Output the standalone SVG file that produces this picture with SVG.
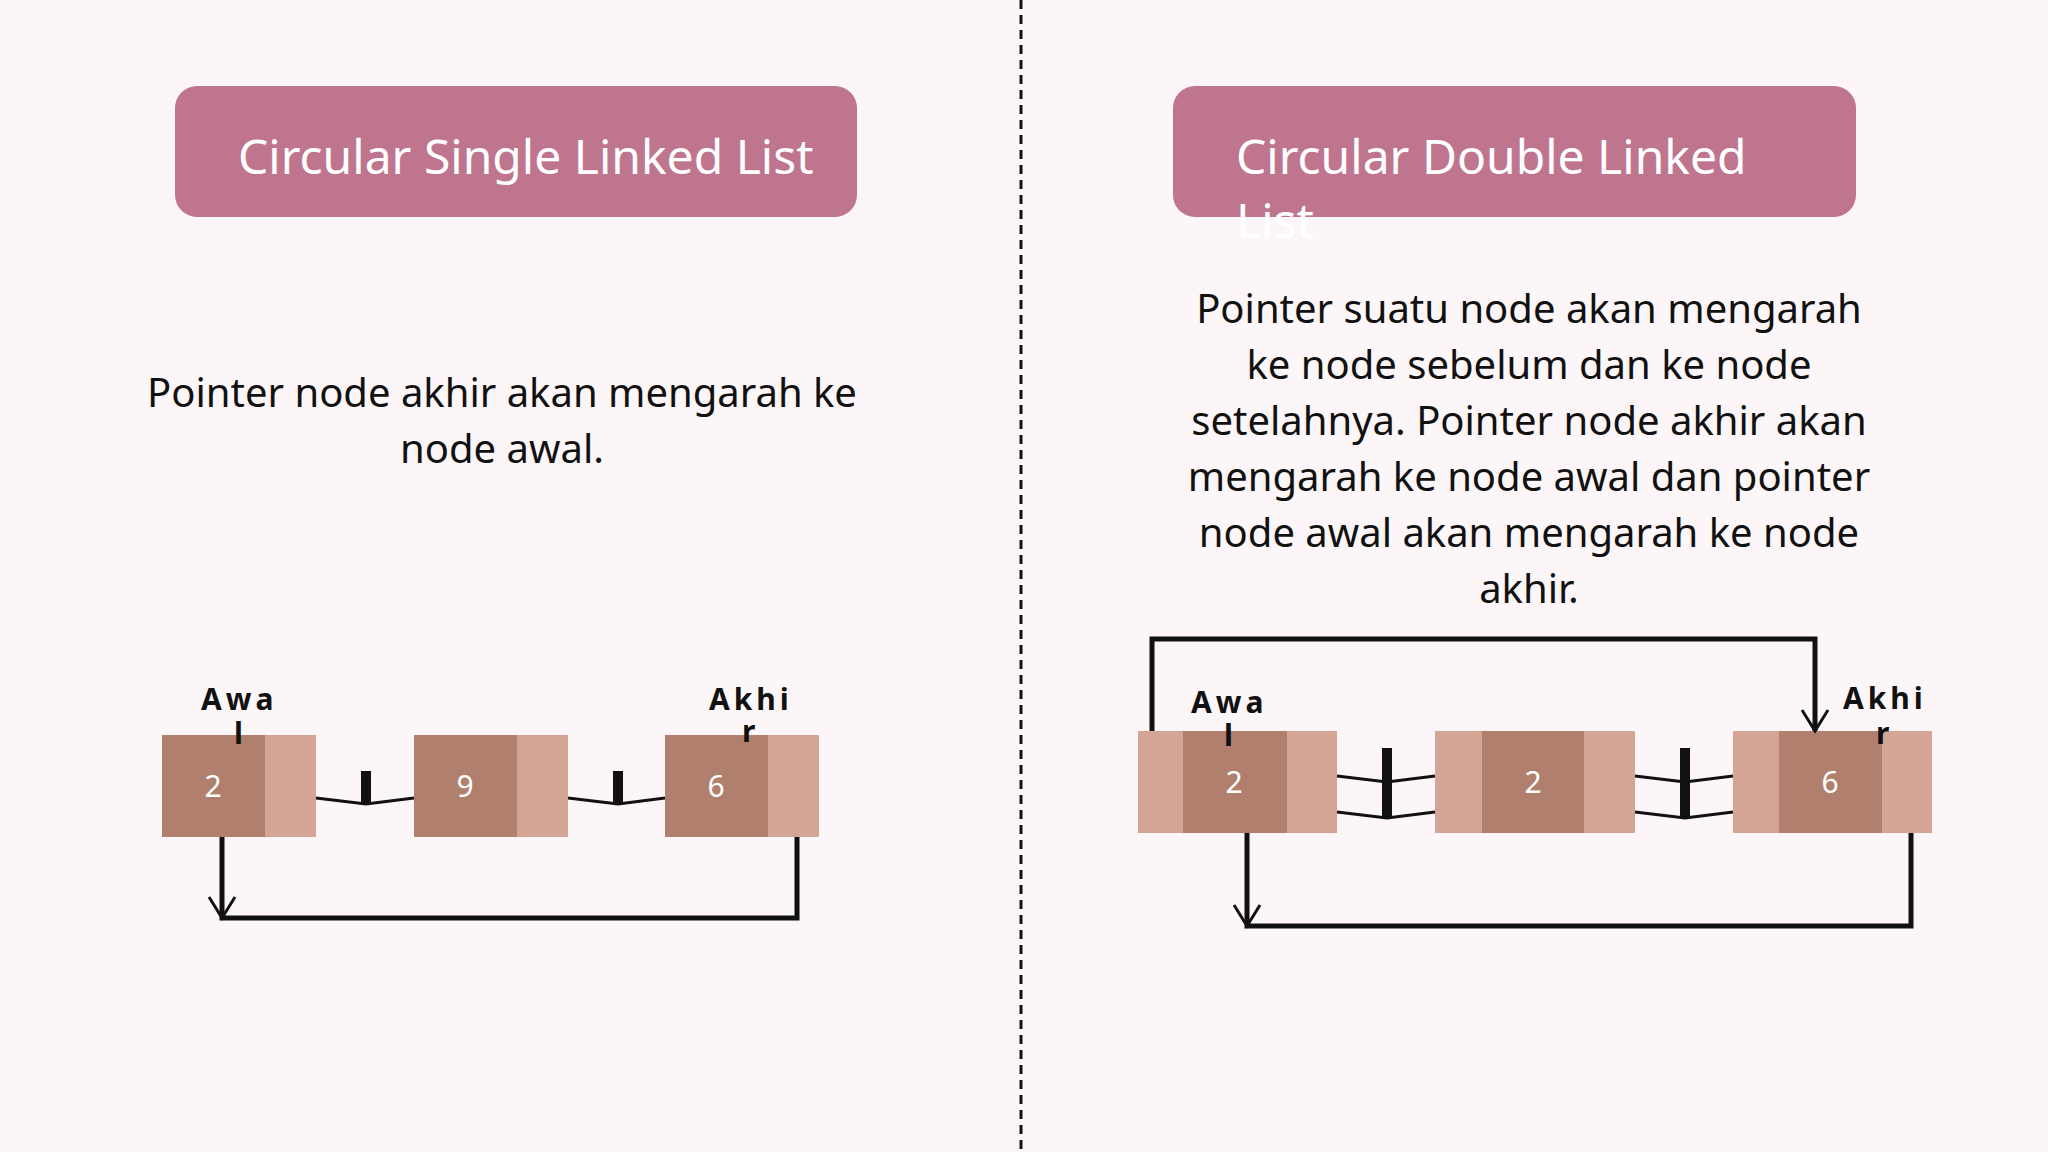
<svg xmlns="http://www.w3.org/2000/svg" width="2048" height="1152" viewBox="0 0 2048 1152">
<style>
.t{font-family:"Noto Sans","Open Sans",sans-serif;fill:#fff;font-size:48px}
.p{font-family:"Noto Sans","Open Sans",sans-serif;fill:#111;font-size:40px;text-anchor:middle}
.lb{font-family:"Noto Sans","DejaVu Sans",sans-serif;font-weight:bold;font-size:30px;fill:#111;letter-spacing:4px}
.n{font-family:"Noto Sans","Open Sans",sans-serif;fill:#fff;font-size:30px;text-anchor:middle}
.d{fill:#b07f6d}.l{fill:#d4a595}
.c{fill:none;stroke:#111;stroke-width:5}
.w{fill:none;stroke:#111;stroke-width:3}
.b{fill:#111}
</style>
<rect width="2048" height="1152" fill="#fdf6f8"/>
<line x1="1021" y1="0" x2="1021" y2="1152" stroke="#111" stroke-width="3" stroke-dasharray="9,6"/>
<g id="title-left"><rect x="175" y="86" width="682" height="131" rx="22" fill="#c0758f"/><text class="t" x="238" y="174">Circular Single Linked List</text></g>
<g id="title-right"><rect x="1173" y="86" width="683" height="131" rx="22" fill="#c0758f"/><text class="t" x="1236" y="174">Circular Double Linked</text><text class="t" x="1236" y="238">List</text></g>
<g id="desc-left"><text class="p" x="502" y="407">Pointer node akhir akan mengarah ke</text><text class="p" x="502" y="463">node awal.</text></g>
<g id="desc-right"><text class="p" x="1529" y="323">Pointer suatu node akan mengarah</text><text class="p" x="1529" y="379">ke node sebelum dan ke node</text><text class="p" x="1529" y="435">setelahnya. Pointer node akhir akan</text><text class="p" x="1529" y="491">mengarah ke node awal dan pointer</text><text class="p" x="1529" y="547">node awal akan mengarah ke node</text><text class="p" x="1529" y="603">akhir.</text></g>

<g id="left-n1"><rect class="l" x="162" y="735" width="154" height="102"/><rect class="d" x="162" y="735" width="103" height="102"/><text class="n" x="213" y="797">2</text></g>
<g id="left-n2"><rect class="l" x="414" y="735" width="154" height="102"/><rect class="d" x="414" y="735" width="103" height="102"/><text class="n" x="465" y="797">9</text></g>
<g id="left-n3"><rect class="l" x="665" y="735" width="154" height="102"/><rect class="d" x="665" y="735" width="103" height="102"/><text class="n" x="716" y="797">6</text></g>
<g id="left-labels"><text class="lb" x="201" y="710">Awa</text><text class="lb" x="234" y="744">l</text><text class="lb" x="709" y="710">Akhi</text><text class="lb" x="742" y="742">r</text></g>

<g id="right-n1"><rect class="l" x="1138" y="731" width="199" height="102"/><rect class="d" x="1183" y="731" width="104" height="102"/><text class="n" x="1234" y="793">2</text></g>
<g id="right-n2"><rect class="l" x="1435" y="731" width="200" height="102"/><rect class="d" x="1482" y="731" width="102" height="102"/><text class="n" x="1533" y="793">2</text></g>
<g id="right-n3"><rect class="l" x="1733" y="731" width="199" height="102"/><rect class="d" x="1779" y="731" width="103" height="102"/><text class="n" x="1830" y="793">6</text></g>
<g id="right-labels"><text class="lb" x="1191" y="713">Awa</text><text class="lb" x="1224" y="746">l</text><text class="lb" x="1843" y="709">Akhi</text><text class="lb" x="1876" y="744">r</text></g>

<g id="connectors">
<polyline class="w" points="316,798 366,804 414,798"/><rect class="b" x="361" y="771" width="10" height="33"/>
<polyline class="w" points="568,798 618,804 665,798"/><rect class="b" x="613" y="771" width="10" height="33"/>
<polyline class="c" points="222,837 222,918 797,918 797,837"/><polyline class="w" points="209,897 222,918 235,897"/>

<polyline class="w" points="1337,776 1387,782 1435,776"/><polyline class="w" points="1337,812 1387,818 1435,812"/><rect class="b" x="1382" y="748" width="10" height="70"/>
<polyline class="w" points="1635,776 1685,782 1733,776"/><polyline class="w" points="1635,812 1685,818 1733,812"/><rect class="b" x="1680" y="748" width="10" height="70"/>
<polyline class="c" points="1152,731 1152,639 1815,639 1815,731"/><polyline class="w" points="1802,710 1815,731 1828,710"/>
<polyline class="c" points="1247,833 1247,926 1911,926 1911,833"/><polyline class="w" points="1234,905 1247,926 1260,905"/>
</g>
</svg>
